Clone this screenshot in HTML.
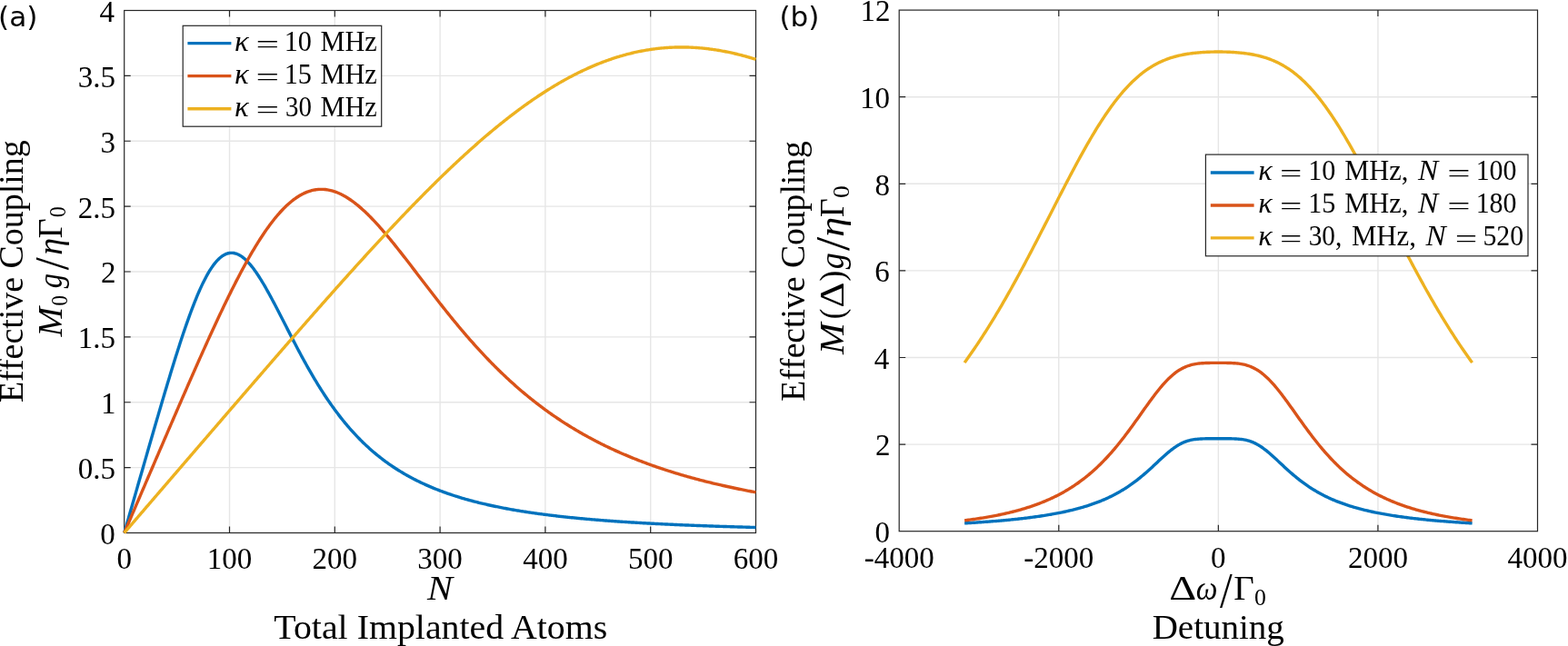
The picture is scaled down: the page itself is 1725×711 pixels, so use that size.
<!DOCTYPE html>
<html><head><meta charset="utf-8"><title>Effective Coupling</title>
<style>html,body{margin:0;padding:0;background:#fff;}svg{display:block;}</style></head>
<body><svg width="1725" height="711" viewBox="0 0 1725 711"><rect width="1725" height="711" fill="#fff"/>
<path d="M252.50 11.50V586.50M368.30 11.50V586.50M484.10 11.50V586.50M599.90 11.50V586.50M715.70 11.50V586.50M136.70 514.62H831.50M136.70 442.75H831.50M136.70 370.88H831.50M136.70 299.00H831.50M136.70 227.12H831.50M136.70 155.25H831.50M136.70 83.38H831.50" stroke="#E6E6E6" stroke-width="1.4" fill="none"/>
<path d="M1164.78 11.10V584.70M1340.35 11.10V584.70M1515.92 11.10V584.70M989.20 489.10H1691.50M989.20 393.50H1691.50M989.20 297.90H1691.50M989.20 202.30H1691.50M989.20 106.70H1691.50" stroke="#E6E6E6" stroke-width="1.4" fill="none"/>
<path d="M252.50 586.50v-7.0M252.50 11.50v7.0M368.30 586.50v-7.0M368.30 11.50v7.0M484.10 586.50v-7.0M484.10 11.50v7.0M599.90 586.50v-7.0M599.90 11.50v7.0M715.70 586.50v-7.0M715.70 11.50v7.0M136.70 514.62h7.0M831.50 514.62h-7.0M136.70 442.75h7.0M831.50 442.75h-7.0M136.70 370.88h7.0M831.50 370.88h-7.0M136.70 299.00h7.0M831.50 299.00h-7.0M136.70 227.12h7.0M831.50 227.12h-7.0M136.70 155.25h7.0M831.50 155.25h-7.0M136.70 83.38h7.0M831.50 83.38h-7.0" stroke="#262626" stroke-width="1.2" fill="none"/>
<rect x="136.70" y="11.50" width="694.80" height="575.00" stroke="#262626" stroke-width="1.2" fill="none"/>
<path d="M1164.78 584.70v-7.0M1164.78 11.10v7.0M1340.35 584.70v-7.0M1340.35 11.10v7.0M1515.92 584.70v-7.0M1515.92 11.10v7.0M989.20 489.10h7.0M1691.50 489.10h-7.0M989.20 393.50h7.0M1691.50 393.50h-7.0M989.20 297.90h7.0M1691.50 297.90h-7.0M989.20 202.30h7.0M1691.50 202.30h-7.0M989.20 106.70h7.0M1691.50 106.70h-7.0" stroke="#262626" stroke-width="1.2" fill="none"/>
<rect x="989.20" y="11.10" width="702.30" height="573.60" stroke="#262626" stroke-width="1.2" fill="none"/>
<path d="M136.70 586.50L137.86 582.47L139.02 578.43L140.17 574.40L141.33 570.37L142.49 566.33L143.65 562.30L144.81 558.27L145.96 554.24L147.12 550.20L148.28 546.17L149.44 542.14L150.60 538.11L151.75 534.07L152.91 530.04L154.07 526.01L155.23 521.98L156.39 517.96L157.54 513.93L158.70 509.90L159.86 505.88L161.02 501.86L162.18 497.84L163.33 493.82L164.49 489.81L165.65 485.80L166.81 481.79L167.97 477.79L169.12 473.79L170.28 469.80L171.44 465.81L172.60 461.83L173.76 457.86L174.91 453.90L176.07 449.94L177.23 446.00L178.39 442.06L179.55 438.14L180.70 434.23L181.86 430.33L183.02 426.45L184.18 422.58L185.34 418.73L186.49 414.89L187.65 411.08L188.81 407.29L189.97 403.51L191.13 399.77L192.28 396.04L193.44 392.34L194.60 388.67L195.76 385.03L196.92 381.42L198.07 377.84L199.23 374.30L200.39 370.79L201.55 367.32L202.71 363.89L203.86 360.50L205.02 357.15L206.18 353.85L207.34 350.59L208.50 347.38L209.65 344.23L210.81 341.12L211.97 338.07L213.13 335.08L214.29 332.14L215.44 329.27L216.60 326.46L217.76 323.71L218.92 321.03L220.08 318.41L221.23 315.87L222.39 313.39L223.55 310.99L224.71 308.67L225.87 306.42L227.02 304.25L228.18 302.16L229.34 300.15L230.50 298.22L231.66 296.38L232.81 294.62L233.97 292.95L235.13 291.36L236.29 289.86L237.45 288.46L238.60 287.14L239.76 285.91L240.92 284.78L242.08 283.73L243.24 282.78L244.39 281.92L245.55 281.16L246.71 280.48L247.87 279.90L249.03 279.41L250.18 279.01L251.34 278.71L252.50 278.50L253.66 278.37L254.82 278.34L255.97 278.39L257.13 278.54L258.29 278.77L259.45 279.08L260.61 279.48L261.76 279.97L262.92 280.53L264.08 281.18L265.24 281.90L266.40 282.71L267.55 283.58L268.71 284.53L269.87 285.56L271.03 286.65L272.19 287.81L273.34 289.04L274.50 290.33L275.66 291.69L276.82 293.10L277.98 294.57L279.13 296.10L280.29 297.68L281.45 299.31L282.61 300.99L283.77 302.72L284.92 304.49L286.08 306.31L287.24 308.17L288.40 310.06L289.56 312.00L290.71 313.96L291.87 315.96L293.03 317.99L294.19 320.05L295.35 322.13L296.50 324.24L297.66 326.37L298.82 328.52L299.98 330.69L301.14 332.87L302.29 335.08L303.45 337.29L304.61 339.52L305.77 341.76L306.93 344.00L308.08 346.25L309.24 348.51L310.40 350.78L311.56 353.04L312.72 355.31L313.87 357.58L315.03 359.85L316.19 362.11L317.35 364.38L318.51 366.64L319.66 368.89L320.82 371.14L321.98 373.38L323.14 375.61L324.30 377.83L325.45 380.05L326.61 382.25L327.77 384.44L328.93 386.62L330.09 388.79L331.24 390.94L332.40 393.09L333.56 395.21L334.72 397.33L335.88 399.42L337.03 401.50L338.19 403.57L339.35 405.62L340.51 407.65L341.67 409.67L342.82 411.67L343.98 413.65L345.14 415.61L346.30 417.56L347.46 419.48L348.61 421.39L349.77 423.28L350.93 425.15L352.09 427.01L353.25 428.84L354.40 430.65L355.56 432.45L356.72 434.23L357.88 435.98L359.04 437.72L360.19 439.44L361.35 441.14L362.51 442.83L363.67 444.49L364.83 446.13L365.98 447.76L367.14 449.36L368.30 450.95L369.46 452.52L370.62 454.07L371.77 455.60L372.93 457.11L374.09 458.61L375.25 460.08L376.41 461.54L377.56 462.98L378.72 464.40L379.88 465.81L381.04 467.20L382.20 468.57L383.35 469.92L384.51 471.26L385.67 472.58L386.83 473.88L387.99 475.17L389.14 476.44L390.30 477.69L391.46 478.93L392.62 480.15L393.78 481.36L394.93 482.55L396.09 483.72L397.25 484.88L398.41 486.03L399.57 487.16L400.72 488.27L401.88 489.37L403.04 490.46L404.20 491.53L405.36 492.59L406.51 493.64L407.67 494.67L408.83 495.69L409.99 496.69L411.15 497.68L412.30 498.66L413.46 499.63L414.62 500.58L415.78 501.52L416.94 502.45L418.09 503.37L419.25 504.27L420.41 505.16L421.57 506.04L422.73 506.91L423.88 507.77L425.04 508.62L426.20 509.45L427.36 510.28L428.52 511.09L429.67 511.90L430.83 512.69L431.99 513.47L433.15 514.25L434.31 515.01L435.46 515.76L436.62 516.50L437.78 517.24L438.94 517.96L440.10 518.68L441.25 519.38L442.41 520.08L443.57 520.77L444.73 521.44L445.89 522.11L447.04 522.78L448.20 523.43L449.36 524.07L450.52 524.71L451.68 525.34L452.83 525.96L453.99 526.57L455.15 527.18L456.31 527.77L457.47 528.36L458.62 528.95L459.78 529.52L460.94 530.09L462.10 530.65L463.26 531.20L464.41 531.75L465.57 532.29L466.73 532.82L467.89 533.35L469.05 533.87L470.20 534.38L471.36 534.89L472.52 535.39L473.68 535.89L474.84 536.37L475.99 536.86L477.15 537.33L478.31 537.81L479.47 538.27L480.63 538.73L481.78 539.18L482.94 539.63L484.10 540.08L485.26 540.51L486.42 540.95L487.57 541.37L488.73 541.80L489.89 542.21L491.05 542.63L492.21 543.03L493.36 543.44L494.52 543.83L495.68 544.23L496.84 544.61L498.00 545.00L499.15 545.38L500.31 545.75L501.47 546.12L502.63 546.49L503.79 546.85L504.94 547.21L506.10 547.56L507.26 547.91L508.42 548.26L509.58 548.60L510.73 548.94L511.89 549.27L513.05 549.60L514.21 549.92L515.37 550.25L516.52 550.57L517.68 550.88L518.84 551.19L520.00 551.50L521.16 551.80L522.31 552.10L523.47 552.40L524.63 552.70L525.79 552.99L526.95 553.28L528.10 553.56L529.26 553.84L530.42 554.12L531.58 554.39L532.74 554.67L533.89 554.94L535.05 555.20L536.21 555.47L537.37 555.73L538.53 555.98L539.68 556.24L540.84 556.49L542.00 556.74L543.16 556.99L544.32 557.23L545.47 557.47L546.63 557.71L547.79 557.95L548.95 558.18L550.11 558.41L551.26 558.64L552.42 558.87L553.58 559.09L554.74 559.31L555.90 559.53L557.05 559.75L558.21 559.96L559.37 560.17L560.53 560.38L561.69 560.59L562.84 560.80L564.00 561.00L565.16 561.20L566.32 561.40L567.48 561.60L568.63 561.80L569.79 561.99L570.95 562.18L572.11 562.37L573.27 562.56L574.42 562.74L575.58 562.93L576.74 563.11L577.90 563.29L579.06 563.47L580.21 563.64L581.37 563.82L582.53 563.99L583.69 564.16L584.85 564.33L586.00 564.50L587.16 564.66L588.32 564.83L589.48 564.99L590.64 565.15L591.79 565.31L592.95 565.47L594.11 565.63L595.27 565.78L596.43 565.94L597.58 566.09L598.74 566.24L599.90 566.39L601.06 566.54L602.22 566.68L603.37 566.83L604.53 566.97L605.69 567.11L606.85 567.25L608.01 567.39L609.16 567.53L610.32 567.67L611.48 567.80L612.64 567.94L613.80 568.07L614.95 568.20L616.11 568.33L617.27 568.46L618.43 568.59L619.59 568.71L620.74 568.84L621.90 568.96L623.06 569.09L624.22 569.21L625.38 569.33L626.53 569.45L627.69 569.57L628.85 569.69L630.01 569.80L631.17 569.92L632.32 570.03L633.48 570.15L634.64 570.26L635.80 570.37L636.96 570.48L638.11 570.59L639.27 570.70L640.43 570.81L641.59 570.91L642.75 571.02L643.90 571.12L645.06 571.23L646.22 571.33L647.38 571.43L648.54 571.53L649.69 571.63L650.85 571.73L652.01 571.83L653.17 571.93L654.33 572.02L655.48 572.12L656.64 572.21L657.80 572.31L658.96 572.40L660.12 572.49L661.27 572.59L662.43 572.68L663.59 572.77L664.75 572.86L665.91 572.94L667.06 573.03L668.22 573.12L669.38 573.20L670.54 573.29L671.70 573.37L672.85 573.46L674.01 573.54L675.17 573.63L676.33 573.71L677.49 573.79L678.64 573.87L679.80 573.95L680.96 574.03L682.12 574.11L683.28 574.18L684.43 574.26L685.59 574.34L686.75 574.41L687.91 574.49L689.07 574.56L690.22 574.64L691.38 574.71L692.54 574.79L693.70 574.86L694.86 574.93L696.01 575.00L697.17 575.07L698.33 575.14L699.49 575.21L700.65 575.28L701.80 575.35L702.96 575.42L704.12 575.48L705.28 575.55L706.44 575.62L707.59 575.68L708.75 575.75L709.91 575.81L711.07 575.87L712.23 575.94L713.38 576.00L714.54 576.06L715.70 576.13L716.86 576.19L718.02 576.25L719.17 576.31L720.33 576.37L721.49 576.43L722.65 576.49L723.81 576.55L724.96 576.61L726.12 576.66L727.28 576.72L728.44 576.78L729.60 576.83L730.75 576.89L731.91 576.95L733.07 577.00L734.23 577.06L735.39 577.11L736.54 577.16L737.70 577.22L738.86 577.27L740.02 577.32L741.18 577.38L742.33 577.43L743.49 577.48L744.65 577.53L745.81 577.58L746.97 577.63L748.12 577.68L749.28 577.73L750.44 577.78L751.60 577.83L752.76 577.88L753.91 577.93L755.07 577.97L756.23 578.02L757.39 578.07L758.55 578.12L759.70 578.16L760.86 578.21L762.02 578.25L763.18 578.30L764.34 578.34L765.49 578.39L766.65 578.43L767.81 578.48L768.97 578.52L770.13 578.56L771.28 578.61L772.44 578.65L773.60 578.69L774.76 578.74L775.92 578.78L777.07 578.82L778.23 578.86L779.39 578.90L780.55 578.94L781.71 578.98L782.86 579.02L784.02 579.06L785.18 579.10L786.34 579.14L787.50 579.18L788.65 579.22L789.81 579.26L790.97 579.30L792.13 579.33L793.29 579.37L794.44 579.41L795.60 579.45L796.76 579.48L797.92 579.52L799.08 579.56L800.23 579.59L801.39 579.63L802.55 579.66L803.71 579.70L804.87 579.73L806.02 579.77L807.18 579.80L808.34 579.84L809.50 579.87L810.66 579.91L811.81 579.94L812.97 579.97L814.13 580.01L815.29 580.04L816.45 580.07L817.60 580.11L818.76 580.14L819.92 580.17L821.08 580.20L822.24 580.23L823.39 580.27L824.55 580.30L825.71 580.33L826.87 580.36L828.03 580.39L829.18 580.42L830.34 580.45L831.50 580.48" stroke="#0072BD" stroke-width="3.4" fill="none" stroke-linejoin="round"/>
<path d="M136.70 586.50L137.86 583.81L139.02 581.11L140.17 578.42L141.33 575.72L142.49 573.03L143.65 570.34L144.81 567.64L145.96 564.95L147.12 562.25L148.28 559.56L149.44 556.87L150.60 554.17L151.75 551.48L152.91 548.78L154.07 546.09L155.23 543.40L156.39 540.70L157.54 538.01L158.70 535.31L159.86 532.62L161.02 529.93L162.18 527.23L163.33 524.54L164.49 521.85L165.65 519.16L166.81 516.46L167.97 513.77L169.12 511.08L170.28 508.39L171.44 505.70L172.60 503.00L173.76 500.31L174.91 497.62L176.07 494.93L177.23 492.25L178.39 489.56L179.55 486.87L180.70 484.18L181.86 481.50L183.02 478.81L184.18 476.13L185.34 473.44L186.49 470.76L187.65 468.08L188.81 465.40L189.97 462.72L191.13 460.05L192.28 457.37L193.44 454.70L194.60 452.02L195.76 449.35L196.92 446.69L198.07 444.02L199.23 441.36L200.39 438.69L201.55 436.03L202.71 433.38L203.86 430.72L205.02 428.07L206.18 425.42L207.34 422.78L208.50 420.14L209.65 417.50L210.81 414.86L211.97 412.23L213.13 409.60L214.29 406.98L215.44 404.36L216.60 401.75L217.76 399.14L218.92 396.53L220.08 393.93L221.23 391.34L222.39 388.75L223.55 386.17L224.71 383.59L225.87 381.02L227.02 378.45L228.18 375.90L229.34 373.35L230.50 370.80L231.66 368.27L232.81 365.74L233.97 363.22L235.13 360.71L236.29 358.20L237.45 355.71L238.60 353.22L239.76 350.75L240.92 348.28L242.08 345.82L243.24 343.38L244.39 340.94L245.55 338.52L246.71 336.10L247.87 333.70L249.03 331.31L250.18 328.93L251.34 326.57L252.50 324.22L253.66 321.88L254.82 319.55L255.97 317.24L257.13 314.95L258.29 312.66L259.45 310.40L260.61 308.15L261.76 305.91L262.92 303.69L264.08 301.49L265.24 299.30L266.40 297.13L267.55 294.98L268.71 292.85L269.87 290.73L271.03 288.64L272.19 286.56L273.34 284.50L274.50 282.47L275.66 280.45L276.82 278.45L277.98 276.48L279.13 274.53L280.29 272.59L281.45 270.69L282.61 268.80L283.77 266.94L284.92 265.10L286.08 263.28L287.24 261.49L288.40 259.72L289.56 257.98L290.71 256.26L291.87 254.57L293.03 252.90L294.19 251.26L295.35 249.65L296.50 248.06L297.66 246.50L298.82 244.97L299.98 243.47L301.14 241.99L302.29 240.54L303.45 239.13L304.61 237.74L305.77 236.38L306.93 235.05L308.08 233.75L309.24 232.48L310.40 231.24L311.56 230.04L312.72 228.86L313.87 227.71L315.03 226.60L316.19 225.52L317.35 224.47L318.51 223.45L319.66 222.46L320.82 221.51L321.98 220.59L323.14 219.70L324.30 218.85L325.45 218.02L326.61 217.23L327.77 216.48L328.93 215.76L330.09 215.07L331.24 214.41L332.40 213.79L333.56 213.20L334.72 212.65L335.88 212.12L337.03 211.64L338.19 211.18L339.35 210.76L340.51 210.38L341.67 210.02L342.82 209.70L343.98 209.42L345.14 209.17L346.30 208.95L347.46 208.76L348.61 208.61L349.77 208.49L350.93 208.40L352.09 208.35L353.25 208.33L354.40 208.34L355.56 208.38L356.72 208.46L357.88 208.56L359.04 208.70L360.19 208.87L361.35 209.07L362.51 209.30L363.67 209.57L364.83 209.86L365.98 210.18L367.14 210.54L368.30 210.92L369.46 211.33L370.62 211.77L371.77 212.24L372.93 212.74L374.09 213.27L375.25 213.82L376.41 214.41L377.56 215.01L378.72 215.65L379.88 216.31L381.04 217.00L382.20 217.71L383.35 218.45L384.51 219.21L385.67 220.00L386.83 220.81L387.99 221.65L389.14 222.50L390.30 223.39L391.46 224.29L392.62 225.21L393.78 226.16L394.93 227.13L396.09 228.12L397.25 229.13L398.41 230.16L399.57 231.21L400.72 232.27L401.88 233.36L403.04 234.46L404.20 235.59L405.36 236.73L406.51 237.88L407.67 239.06L408.83 240.25L409.99 241.45L411.15 242.67L412.30 243.90L413.46 245.15L414.62 246.42L415.78 247.69L416.94 248.98L418.09 250.28L419.25 251.60L420.41 252.93L421.57 254.26L422.73 255.61L423.88 256.97L425.04 258.34L426.20 259.72L427.36 261.11L428.52 262.51L429.67 263.92L430.83 265.33L431.99 266.76L433.15 268.19L434.31 269.62L435.46 271.07L436.62 272.52L437.78 273.98L438.94 275.44L440.10 276.91L441.25 278.39L442.41 279.87L443.57 281.35L444.73 282.84L445.89 284.33L447.04 285.82L448.20 287.32L449.36 288.82L450.52 290.33L451.68 291.83L452.83 293.34L453.99 294.85L455.15 296.37L456.31 297.88L457.47 299.39L458.62 300.91L459.78 302.42L460.94 303.94L462.10 305.45L463.26 306.97L464.41 308.48L465.57 310.00L466.73 311.51L467.89 313.02L469.05 314.53L470.20 316.04L471.36 317.55L472.52 319.05L473.68 320.55L474.84 322.06L475.99 323.55L477.15 325.05L478.31 326.54L479.47 328.03L480.63 329.52L481.78 331.00L482.94 332.48L484.10 333.95L485.26 335.42L486.42 336.89L487.57 338.35L488.73 339.81L489.89 341.27L491.05 342.72L492.21 344.16L493.36 345.60L494.52 347.04L495.68 348.47L496.84 349.89L498.00 351.32L499.15 352.73L500.31 354.14L501.47 355.54L502.63 356.94L503.79 358.34L504.94 359.72L506.10 361.10L507.26 362.48L508.42 363.85L509.58 365.21L510.73 366.57L511.89 367.92L513.05 369.27L514.21 370.61L515.37 371.94L516.52 373.26L517.68 374.58L518.84 375.90L520.00 377.20L521.16 378.50L522.31 379.80L523.47 381.08L524.63 382.36L525.79 383.64L526.95 384.90L528.10 386.16L529.26 387.42L530.42 388.66L531.58 389.90L532.74 391.14L533.89 392.36L535.05 393.58L536.21 394.79L537.37 396.00L538.53 397.20L539.68 398.39L540.84 399.57L542.00 400.75L543.16 401.92L544.32 403.08L545.47 404.24L546.63 405.39L547.79 406.53L548.95 407.67L550.11 408.80L551.26 409.92L552.42 411.03L553.58 412.14L554.74 413.24L555.90 414.34L557.05 415.42L558.21 416.50L559.37 417.58L560.53 418.65L561.69 419.71L562.84 420.76L564.00 421.81L565.16 422.85L566.32 423.88L567.48 424.91L568.63 425.92L569.79 426.94L570.95 427.94L572.11 428.94L573.27 429.94L574.42 430.92L575.58 431.90L576.74 432.88L577.90 433.84L579.06 434.80L580.21 435.76L581.37 436.71L582.53 437.65L583.69 438.58L584.85 439.51L586.00 440.43L587.16 441.35L588.32 442.26L589.48 443.16L590.64 444.06L591.79 444.95L592.95 445.83L594.11 446.71L595.27 447.59L596.43 448.45L597.58 449.31L598.74 450.17L599.90 451.02L601.06 451.86L602.22 452.70L603.37 453.53L604.53 454.35L605.69 455.17L606.85 455.99L608.01 456.79L609.16 457.60L610.32 458.39L611.48 459.18L612.64 459.97L613.80 460.75L614.95 461.52L616.11 462.29L617.27 463.06L618.43 463.82L619.59 464.57L620.74 465.32L621.90 466.06L623.06 466.80L624.22 467.53L625.38 468.25L626.53 468.98L627.69 469.69L628.85 470.40L630.01 471.11L631.17 471.81L632.32 472.51L633.48 473.20L634.64 473.88L635.80 474.57L636.96 475.24L638.11 475.91L639.27 476.58L640.43 477.24L641.59 477.90L642.75 478.55L643.90 479.20L645.06 479.84L646.22 480.48L647.38 481.12L648.54 481.75L649.69 482.37L650.85 482.99L652.01 483.61L653.17 484.22L654.33 484.83L655.48 485.43L656.64 486.03L657.80 486.63L658.96 487.22L660.12 487.80L661.27 488.39L662.43 488.96L663.59 489.54L664.75 490.11L665.91 490.67L667.06 491.24L668.22 491.79L669.38 492.35L670.54 492.90L671.70 493.44L672.85 493.99L674.01 494.52L675.17 495.06L676.33 495.59L677.49 496.12L678.64 496.64L679.80 497.16L680.96 497.67L682.12 498.19L683.28 498.69L684.43 499.20L685.59 499.70L686.75 500.20L687.91 500.69L689.07 501.18L690.22 501.67L691.38 502.16L692.54 502.64L693.70 503.11L694.86 503.59L696.01 504.06L697.17 504.52L698.33 504.99L699.49 505.45L700.65 505.91L701.80 506.36L702.96 506.81L704.12 507.26L705.28 507.70L706.44 508.15L707.59 508.58L708.75 509.02L709.91 509.45L711.07 509.88L712.23 510.31L713.38 510.73L714.54 511.15L715.70 511.57L716.86 511.99L718.02 512.40L719.17 512.81L720.33 513.21L721.49 513.62L722.65 514.02L723.81 514.41L724.96 514.81L726.12 515.20L727.28 515.59L728.44 515.98L729.60 516.36L730.75 516.75L731.91 517.12L733.07 517.50L734.23 517.87L735.39 518.25L736.54 518.62L737.70 518.98L738.86 519.35L740.02 519.71L741.18 520.07L742.33 520.42L743.49 520.78L744.65 521.13L745.81 521.48L746.97 521.82L748.12 522.17L749.28 522.51L750.44 522.85L751.60 523.19L752.76 523.52L753.91 523.86L755.07 524.19L756.23 524.52L757.39 524.84L758.55 525.17L759.70 525.49L760.86 525.81L762.02 526.13L763.18 526.44L764.34 526.76L765.49 527.07L766.65 527.38L767.81 527.69L768.97 527.99L770.13 528.30L771.28 528.60L772.44 528.90L773.60 529.19L774.76 529.49L775.92 529.78L777.07 530.07L778.23 530.36L779.39 530.65L780.55 530.94L781.71 531.22L782.86 531.50L784.02 531.78L785.18 532.06L786.34 532.34L787.50 532.61L788.65 532.89L789.81 533.16L790.97 533.43L792.13 533.70L793.29 533.96L794.44 534.23L795.60 534.49L796.76 534.75L797.92 535.01L799.08 535.27L800.23 535.52L801.39 535.78L802.55 536.03L803.71 536.28L804.87 536.53L806.02 536.78L807.18 537.03L808.34 537.27L809.50 537.51L810.66 537.75L811.81 537.99L812.97 538.23L814.13 538.47L815.29 538.71L816.45 538.94L817.60 539.17L818.76 539.40L819.92 539.63L821.08 539.86L822.24 540.09L823.39 540.31L824.55 540.54L825.71 540.76L826.87 540.98L828.03 541.20L829.18 541.42L830.34 541.64L831.50 541.85" stroke="#D95319" stroke-width="3.4" fill="none" stroke-linejoin="round"/>
<path d="M136.70 586.50L137.86 585.15L139.02 583.81L140.17 582.46L141.33 581.11L142.49 579.77L143.65 578.42L144.81 577.08L145.96 575.73L147.12 574.38L148.28 573.04L149.44 571.69L150.60 570.34L151.75 569.00L152.91 567.65L154.07 566.30L155.23 564.96L156.39 563.61L157.54 562.27L158.70 560.92L159.86 559.57L161.02 558.23L162.18 556.88L163.33 555.53L164.49 554.19L165.65 552.84L166.81 551.49L167.97 550.15L169.12 548.80L170.28 547.46L171.44 546.11L172.60 544.76L173.76 543.42L174.91 542.07L176.07 540.72L177.23 539.38L178.39 538.03L179.55 536.68L180.70 535.34L181.86 533.99L183.02 532.65L184.18 531.30L185.34 529.95L186.49 528.61L187.65 527.26L188.81 525.91L189.97 524.57L191.13 523.22L192.28 521.88L193.44 520.53L194.60 519.18L195.76 517.84L196.92 516.49L198.07 515.15L199.23 513.80L200.39 512.45L201.55 511.11L202.71 509.76L203.86 508.41L205.02 507.07L206.18 505.72L207.34 504.38L208.50 503.03L209.65 501.68L210.81 500.34L211.97 498.99L213.13 497.65L214.29 496.30L215.44 494.96L216.60 493.61L217.76 492.26L218.92 490.92L220.08 489.57L221.23 488.23L222.39 486.88L223.55 485.54L224.71 484.19L225.87 482.85L227.02 481.50L228.18 480.15L229.34 478.81L230.50 477.46L231.66 476.12L232.81 474.77L233.97 473.43L235.13 472.08L236.29 470.74L237.45 469.39L238.60 468.05L239.76 466.71L240.92 465.36L242.08 464.02L243.24 462.67L244.39 461.33L245.55 459.98L246.71 458.64L247.87 457.30L249.03 455.95L250.18 454.61L251.34 453.26L252.50 451.92L253.66 450.58L254.82 449.23L255.97 447.89L257.13 446.55L258.29 445.20L259.45 443.86L260.61 442.52L261.76 441.18L262.92 439.83L264.08 438.49L265.24 437.15L266.40 435.81L267.55 434.47L268.71 433.12L269.87 431.78L271.03 430.44L272.19 429.10L273.34 427.76L274.50 426.42L275.66 425.08L276.82 423.74L277.98 422.40L279.13 421.06L280.29 419.72L281.45 418.38L282.61 417.04L283.77 415.70L284.92 414.36L286.08 413.02L287.24 411.68L288.40 410.35L289.56 409.01L290.71 407.67L291.87 406.33L293.03 405.00L294.19 403.66L295.35 402.32L296.50 400.99L297.66 399.65L298.82 398.32L299.98 396.98L301.14 395.65L302.29 394.31L303.45 392.98L304.61 391.64L305.77 390.31L306.93 388.98L308.08 387.64L309.24 386.31L310.40 384.98L311.56 383.65L312.72 382.32L313.87 380.98L315.03 379.65L316.19 378.32L317.35 376.99L318.51 375.66L319.66 374.34L320.82 373.01L321.98 371.68L323.14 370.35L324.30 369.03L325.45 367.70L326.61 366.37L327.77 365.05L328.93 363.72L330.09 362.40L331.24 361.07L332.40 359.75L333.56 358.43L334.72 357.10L335.88 355.78L337.03 354.46L338.19 353.14L339.35 351.82L340.51 350.50L341.67 349.18L342.82 347.86L343.98 346.55L345.14 345.23L346.30 343.91L347.46 342.60L348.61 341.28L349.77 339.97L350.93 338.66L352.09 337.34L353.25 336.03L354.40 334.72L355.56 333.41L356.72 332.10L357.88 330.79L359.04 329.48L360.19 328.17L361.35 326.87L362.51 325.56L363.67 324.26L364.83 322.95L365.98 321.65L367.14 320.35L368.30 319.04L369.46 317.74L370.62 316.44L371.77 315.14L372.93 313.85L374.09 312.55L375.25 311.25L376.41 309.96L377.56 308.66L378.72 307.37L379.88 306.08L381.04 304.79L382.20 303.50L383.35 302.21L384.51 300.92L385.67 299.63L386.83 298.35L387.99 297.06L389.14 295.78L390.30 294.50L391.46 293.22L392.62 291.94L393.78 290.66L394.93 289.38L396.09 288.10L397.25 286.83L398.41 285.55L399.57 284.28L400.72 283.01L401.88 281.74L403.04 280.47L404.20 279.20L405.36 277.94L406.51 276.67L407.67 275.41L408.83 274.15L409.99 272.89L411.15 271.63L412.30 270.37L413.46 269.11L414.62 267.86L415.78 266.61L416.94 265.36L418.09 264.11L419.25 262.86L420.41 261.61L421.57 260.36L422.73 259.12L423.88 257.88L425.04 256.64L426.20 255.40L427.36 254.16L428.52 252.93L429.67 251.69L430.83 250.46L431.99 249.23L433.15 248.00L434.31 246.78L435.46 245.55L436.62 244.33L437.78 243.11L438.94 241.89L440.10 240.67L441.25 239.45L442.41 238.24L443.57 237.03L444.73 235.82L445.89 234.61L447.04 233.41L448.20 232.20L449.36 231.00L450.52 229.80L451.68 228.60L452.83 227.41L453.99 226.22L455.15 225.02L456.31 223.84L457.47 222.65L458.62 221.47L459.78 220.28L460.94 219.10L462.10 217.93L463.26 216.75L464.41 215.58L465.57 214.41L466.73 213.24L467.89 212.07L469.05 210.91L470.20 209.75L471.36 208.59L472.52 207.43L473.68 206.28L474.84 205.13L475.99 203.98L477.15 202.84L478.31 201.69L479.47 200.55L480.63 199.41L481.78 198.28L482.94 197.15L484.10 196.02L485.26 194.89L486.42 193.76L487.57 192.64L488.73 191.52L489.89 190.41L491.05 189.29L492.21 188.18L493.36 187.08L494.52 185.97L495.68 184.87L496.84 183.77L498.00 182.68L499.15 181.58L500.31 180.49L501.47 179.41L502.63 178.32L503.79 177.24L504.94 176.17L506.10 175.09L507.26 174.02L508.42 172.95L509.58 171.89L510.73 170.83L511.89 169.77L513.05 168.72L514.21 167.66L515.37 166.62L516.52 165.57L517.68 164.53L518.84 163.49L520.00 162.46L521.16 161.43L522.31 160.40L523.47 159.38L524.63 158.36L525.79 157.34L526.95 156.32L528.10 155.32L529.26 154.31L530.42 153.31L531.58 152.31L532.74 151.31L533.89 150.32L535.05 149.33L536.21 148.35L537.37 147.37L538.53 146.39L539.68 145.42L540.84 144.45L542.00 143.49L543.16 142.53L544.32 141.57L545.47 140.62L546.63 139.67L547.79 138.73L548.95 137.78L550.11 136.85L551.26 135.92L552.42 134.99L553.58 134.06L554.74 133.14L555.90 132.23L557.05 131.32L558.21 130.41L559.37 129.50L560.53 128.61L561.69 127.71L562.84 126.82L564.00 125.93L565.16 125.05L566.32 124.17L567.48 123.30L568.63 122.43L569.79 121.57L570.95 120.71L572.11 119.85L573.27 119.00L574.42 118.16L575.58 117.32L576.74 116.48L577.90 115.65L579.06 114.82L580.21 114.00L581.37 113.18L582.53 112.36L583.69 111.55L584.85 110.75L586.00 109.95L587.16 109.16L588.32 108.37L589.48 107.58L590.64 106.80L591.79 106.03L592.95 105.26L594.11 104.49L595.27 103.73L596.43 102.97L597.58 102.22L598.74 101.48L599.90 100.74L601.06 100.00L602.22 99.27L603.37 98.54L604.53 97.82L605.69 97.11L606.85 96.40L608.01 95.69L609.16 94.99L610.32 94.30L611.48 93.61L612.64 92.92L613.80 92.24L614.95 91.57L616.11 90.90L617.27 90.24L618.43 89.58L619.59 88.92L620.74 88.28L621.90 87.63L623.06 87.00L624.22 86.37L625.38 85.74L626.53 85.12L627.69 84.50L628.85 83.89L630.01 83.29L631.17 82.69L632.32 82.10L633.48 81.51L634.64 80.93L635.80 80.35L636.96 79.78L638.11 79.21L639.27 78.65L640.43 78.10L641.59 77.55L642.75 77.00L643.90 76.47L645.06 75.93L646.22 75.41L647.38 74.89L648.54 74.37L649.69 73.86L650.85 73.36L652.01 72.86L653.17 72.37L654.33 71.88L655.48 71.40L656.64 70.92L657.80 70.45L658.96 69.99L660.12 69.53L661.27 69.08L662.43 68.63L663.59 68.19L664.75 67.76L665.91 67.33L667.06 66.90L668.22 66.49L669.38 66.07L670.54 65.67L671.70 65.27L672.85 64.87L674.01 64.49L675.17 64.10L676.33 63.73L677.49 63.36L678.64 62.99L679.80 62.63L680.96 62.28L682.12 61.93L683.28 61.59L684.43 61.26L685.59 60.93L686.75 60.61L687.91 60.29L689.07 59.98L690.22 59.67L691.38 59.37L692.54 59.08L693.70 58.79L694.86 58.51L696.01 58.23L697.17 57.96L698.33 57.70L699.49 57.44L700.65 57.19L701.80 56.94L702.96 56.70L704.12 56.47L705.28 56.24L706.44 56.02L707.59 55.80L708.75 55.59L709.91 55.39L711.07 55.19L712.23 55.00L713.38 54.81L714.54 54.63L715.70 54.45L716.86 54.29L718.02 54.12L719.17 53.97L720.33 53.82L721.49 53.67L722.65 53.53L723.81 53.40L724.96 53.27L726.12 53.15L727.28 53.03L728.44 52.92L729.60 52.82L730.75 52.72L731.91 52.63L733.07 52.54L734.23 52.46L735.39 52.39L736.54 52.32L737.70 52.26L738.86 52.20L740.02 52.15L741.18 52.10L742.33 52.06L743.49 52.03L744.65 52.00L745.81 51.98L746.97 51.96L748.12 51.95L749.28 51.95L750.44 51.95L751.60 51.95L752.76 51.97L753.91 51.98L755.07 52.01L756.23 52.04L757.39 52.07L758.55 52.11L759.70 52.16L760.86 52.21L762.02 52.27L763.18 52.33L764.34 52.40L765.49 52.47L766.65 52.55L767.81 52.64L768.97 52.73L770.13 52.82L771.28 52.93L772.44 53.03L773.60 53.15L774.76 53.26L775.92 53.39L777.07 53.52L778.23 53.65L779.39 53.79L780.55 53.94L781.71 54.09L782.86 54.24L784.02 54.40L785.18 54.57L786.34 54.74L787.50 54.92L788.65 55.10L789.81 55.29L790.97 55.48L792.13 55.68L793.29 55.88L794.44 56.09L795.60 56.30L796.76 56.52L797.92 56.74L799.08 56.97L800.23 57.21L801.39 57.45L802.55 57.69L803.71 57.94L804.87 58.19L806.02 58.45L807.18 58.71L808.34 58.98L809.50 59.26L810.66 59.53L811.81 59.82L812.97 60.10L814.13 60.40L815.29 60.69L816.45 61.00L817.60 61.30L818.76 61.62L819.92 61.93L821.08 62.25L822.24 62.58L823.39 62.91L824.55 63.24L825.71 63.58L826.87 63.93L828.03 64.28L829.18 64.63L830.34 64.99L831.50 65.35" stroke="#EDB120" stroke-width="3.4" fill="none" stroke-linejoin="round"/>
<path d="M1061.10 575.86L1062.49 575.78L1063.89 575.70L1065.29 575.61L1066.68 575.53L1068.08 575.44L1069.48 575.36L1070.87 575.27L1072.27 575.18L1073.66 575.09L1075.06 575.00L1076.46 574.91L1077.85 574.81L1079.25 574.72L1080.65 574.62L1082.04 574.52L1083.44 574.42L1084.83 574.32L1086.23 574.22L1087.63 574.11L1089.02 574.01L1090.42 573.90L1091.82 573.79L1093.21 573.68L1094.61 573.57L1096.00 573.45L1097.40 573.34L1098.80 573.22L1100.19 573.10L1101.59 572.98L1102.99 572.85L1104.38 572.73L1105.78 572.60L1107.17 572.47L1108.57 572.34L1109.97 572.21L1111.36 572.07L1112.76 571.93L1114.16 571.79L1115.55 571.65L1116.95 571.50L1118.34 571.36L1119.74 571.20L1121.14 571.05L1122.53 570.90L1123.93 570.74L1125.33 570.58L1126.72 570.41L1128.12 570.25L1129.51 570.08L1130.91 569.91L1132.31 569.73L1133.70 569.55L1135.10 569.37L1136.50 569.18L1137.89 569.00L1139.29 568.80L1140.68 568.61L1142.08 568.41L1143.48 568.21L1144.87 568.00L1146.27 567.79L1147.67 567.57L1149.06 567.36L1150.46 567.13L1151.85 566.91L1153.25 566.68L1154.65 566.44L1156.04 566.20L1157.44 565.95L1158.84 565.70L1160.23 565.45L1161.63 565.19L1163.02 564.92L1164.42 564.65L1165.82 564.38L1167.21 564.10L1168.61 563.81L1170.01 563.52L1171.40 563.22L1172.80 562.91L1174.20 562.60L1175.59 562.28L1176.99 561.96L1178.38 561.62L1179.78 561.28L1181.18 560.94L1182.57 560.58L1183.97 560.22L1185.37 559.85L1186.76 559.47L1188.16 559.09L1189.55 558.69L1190.95 558.29L1192.35 557.88L1193.74 557.45L1195.14 557.02L1196.54 556.58L1197.93 556.13L1199.33 555.67L1200.72 555.20L1202.12 554.71L1203.52 554.22L1204.91 553.71L1206.31 553.20L1207.71 552.67L1209.10 552.12L1210.50 551.57L1211.89 551.00L1213.29 550.42L1214.69 549.82L1216.08 549.21L1217.48 548.59L1218.88 547.95L1220.27 547.29L1221.67 546.62L1223.06 545.94L1224.46 545.23L1225.86 544.51L1227.25 543.78L1228.65 543.02L1230.05 542.25L1231.44 541.46L1232.84 540.65L1234.23 539.82L1235.63 538.97L1237.03 538.10L1238.42 537.22L1239.82 536.31L1241.22 535.38L1242.61 534.43L1244.01 533.46L1245.40 532.47L1246.80 531.45L1248.20 530.42L1249.59 529.36L1250.99 528.29L1252.39 527.19L1253.78 526.07L1255.18 524.93L1256.57 523.77L1257.97 522.59L1259.37 521.39L1260.76 520.18L1262.16 518.95L1263.56 517.70L1264.95 516.44L1266.35 515.17L1267.74 513.88L1269.14 512.59L1270.54 511.29L1271.93 509.98L1273.33 508.67L1274.73 507.37L1276.12 506.07L1277.52 504.77L1278.91 503.49L1280.31 502.22L1281.71 500.96L1283.10 499.73L1284.50 498.52L1285.90 497.35L1287.29 496.20L1288.69 495.09L1290.08 494.03L1291.48 493.00L1292.88 492.02L1294.27 491.09L1295.67 490.22L1297.07 489.39L1298.46 488.62L1299.86 487.91L1301.25 487.25L1302.65 486.65L1304.05 486.10L1305.44 485.61L1306.84 485.17L1308.24 484.78L1309.63 484.44L1311.03 484.14L1312.42 483.88L1313.82 483.66L1315.22 483.48L1316.61 483.32L1318.01 483.20L1319.41 483.09L1320.80 483.01L1322.20 482.94L1323.59 482.89L1324.99 482.85L1326.39 482.82L1327.78 482.80L1329.18 482.79L1330.58 482.77L1331.97 482.77L1333.37 482.76L1334.76 482.76L1336.16 482.75L1337.56 482.75L1338.95 482.75L1340.35 482.75L1341.75 482.75L1343.14 482.75L1344.54 482.75L1345.94 482.76L1347.33 482.76L1348.73 482.77L1350.12 482.77L1351.52 482.79L1352.92 482.80L1354.31 482.82L1355.71 482.85L1357.11 482.89L1358.50 482.94L1359.90 483.01L1361.29 483.09L1362.69 483.20L1364.09 483.32L1365.48 483.48L1366.88 483.66L1368.28 483.88L1369.67 484.14L1371.07 484.44L1372.46 484.78L1373.86 485.17L1375.26 485.61L1376.65 486.10L1378.05 486.65L1379.45 487.25L1380.84 487.91L1382.24 488.62L1383.63 489.39L1385.03 490.22L1386.43 491.09L1387.82 492.02L1389.22 493.00L1390.62 494.03L1392.01 495.09L1393.41 496.20L1394.80 497.35L1396.20 498.52L1397.60 499.73L1398.99 500.96L1400.39 502.22L1401.79 503.49L1403.18 504.77L1404.58 506.07L1405.97 507.37L1407.37 508.67L1408.77 509.98L1410.16 511.29L1411.56 512.59L1412.96 513.88L1414.35 515.17L1415.75 516.44L1417.14 517.70L1418.54 518.95L1419.94 520.18L1421.33 521.39L1422.73 522.59L1424.13 523.77L1425.52 524.93L1426.92 526.07L1428.31 527.19L1429.71 528.29L1431.11 529.36L1432.50 530.42L1433.90 531.45L1435.30 532.47L1436.69 533.46L1438.09 534.43L1439.48 535.38L1440.88 536.31L1442.28 537.22L1443.67 538.10L1445.07 538.97L1446.47 539.82L1447.86 540.65L1449.26 541.46L1450.65 542.25L1452.05 543.02L1453.45 543.78L1454.84 544.51L1456.24 545.23L1457.64 545.94L1459.03 546.62L1460.43 547.29L1461.82 547.95L1463.22 548.59L1464.62 549.21L1466.01 549.82L1467.41 550.42L1468.81 551.00L1470.20 551.57L1471.60 552.12L1472.99 552.67L1474.39 553.20L1475.79 553.71L1477.18 554.22L1478.58 554.71L1479.98 555.20L1481.37 555.67L1482.77 556.13L1484.16 556.58L1485.56 557.02L1486.96 557.45L1488.35 557.88L1489.75 558.29L1491.15 558.69L1492.54 559.09L1493.94 559.47L1495.33 559.85L1496.73 560.22L1498.13 560.58L1499.52 560.94L1500.92 561.28L1502.32 561.62L1503.71 561.96L1505.11 562.28L1506.50 562.60L1507.90 562.91L1509.30 563.22L1510.69 563.52L1512.09 563.81L1513.49 564.10L1514.88 564.38L1516.28 564.65L1517.68 564.92L1519.07 565.19L1520.47 565.45L1521.86 565.70L1523.26 565.95L1524.66 566.20L1526.05 566.44L1527.45 566.68L1528.85 566.91L1530.24 567.13L1531.64 567.36L1533.03 567.57L1534.43 567.79L1535.83 568.00L1537.22 568.21L1538.62 568.41L1540.02 568.61L1541.41 568.80L1542.81 569.00L1544.20 569.18L1545.60 569.37L1547.00 569.55L1548.39 569.73L1549.79 569.91L1551.19 570.08L1552.58 570.25L1553.98 570.41L1555.37 570.58L1556.77 570.74L1558.17 570.90L1559.56 571.05L1560.96 571.20L1562.36 571.36L1563.75 571.50L1565.15 571.65L1566.54 571.79L1567.94 571.93L1569.34 572.07L1570.73 572.21L1572.13 572.34L1573.53 572.47L1574.92 572.60L1576.32 572.73L1577.71 572.85L1579.11 572.98L1580.51 573.10L1581.90 573.22L1583.30 573.34L1584.70 573.45L1586.09 573.57L1587.49 573.68L1588.88 573.79L1590.28 573.90L1591.68 574.01L1593.07 574.11L1594.47 574.22L1595.87 574.32L1597.26 574.42L1598.66 574.52L1600.05 574.62L1601.45 574.72L1602.85 574.81L1604.24 574.91L1605.64 575.00L1607.04 575.09L1608.43 575.18L1609.83 575.27L1611.22 575.36L1612.62 575.44L1614.02 575.53L1615.41 575.61L1616.81 575.70L1618.21 575.78L1619.60 575.86" stroke="#0072BD" stroke-width="3.4" fill="none" stroke-linejoin="round"/>
<path d="M1061.10 572.84L1062.49 572.67L1063.89 572.49L1065.29 572.31L1066.68 572.12L1068.08 571.93L1069.48 571.74L1070.87 571.54L1072.27 571.35L1073.66 571.14L1075.06 570.94L1076.46 570.73L1077.85 570.51L1079.25 570.29L1080.65 570.07L1082.04 569.85L1083.44 569.62L1084.83 569.38L1086.23 569.14L1087.63 568.90L1089.02 568.65L1090.42 568.40L1091.82 568.14L1093.21 567.88L1094.61 567.61L1096.00 567.34L1097.40 567.06L1098.80 566.78L1100.19 566.49L1101.59 566.19L1102.99 565.89L1104.38 565.59L1105.78 565.28L1107.17 564.96L1108.57 564.63L1109.97 564.30L1111.36 563.97L1112.76 563.62L1114.16 563.27L1115.55 562.92L1116.95 562.55L1118.34 562.18L1119.74 561.80L1121.14 561.42L1122.53 561.03L1123.93 560.62L1125.33 560.21L1126.72 559.80L1128.12 559.37L1129.51 558.94L1130.91 558.49L1132.31 558.04L1133.70 557.58L1135.10 557.11L1136.50 556.63L1137.89 556.14L1139.29 555.64L1140.68 555.13L1142.08 554.61L1143.48 554.08L1144.87 553.54L1146.27 552.99L1147.67 552.42L1149.06 551.85L1150.46 551.26L1151.85 550.66L1153.25 550.05L1154.65 549.43L1156.04 548.79L1157.44 548.14L1158.84 547.48L1160.23 546.80L1161.63 546.11L1163.02 545.41L1164.42 544.69L1165.82 543.96L1167.21 543.21L1168.61 542.45L1170.01 541.67L1171.40 540.88L1172.80 540.06L1174.20 539.24L1175.59 538.39L1176.99 537.53L1178.38 536.65L1179.78 535.76L1181.18 534.84L1182.57 533.91L1183.97 532.96L1185.37 531.99L1186.76 531.00L1188.16 529.99L1189.55 528.96L1190.95 527.91L1192.35 526.84L1193.74 525.75L1195.14 524.64L1196.54 523.50L1197.93 522.35L1199.33 521.17L1200.72 519.97L1202.12 518.75L1203.52 517.50L1204.91 516.23L1206.31 514.94L1207.71 513.62L1209.10 512.28L1210.50 510.92L1211.89 509.53L1213.29 508.12L1214.69 506.68L1216.08 505.22L1217.48 503.73L1218.88 502.22L1220.27 500.69L1221.67 499.13L1223.06 497.55L1224.46 495.94L1225.86 494.31L1227.25 492.65L1228.65 490.97L1230.05 489.27L1231.44 487.54L1232.84 485.79L1234.23 484.02L1235.63 482.23L1237.03 480.42L1238.42 478.59L1239.82 476.74L1241.22 474.88L1242.61 472.99L1244.01 471.09L1245.40 469.18L1246.80 467.25L1248.20 465.31L1249.59 463.36L1250.99 461.41L1252.39 459.44L1253.78 457.47L1255.18 455.50L1256.57 453.53L1257.97 451.56L1259.37 449.60L1260.76 447.64L1262.16 445.68L1263.56 443.75L1264.95 441.82L1266.35 439.91L1267.74 438.02L1269.14 436.16L1270.54 434.32L1271.93 432.50L1273.33 430.72L1274.73 428.97L1276.12 427.26L1277.52 425.59L1278.91 423.96L1280.31 422.37L1281.71 420.84L1283.10 419.35L1284.50 417.91L1285.90 416.52L1287.29 415.20L1288.69 413.92L1290.08 412.71L1291.48 411.55L1292.88 410.46L1294.27 409.42L1295.67 408.44L1297.07 407.53L1298.46 406.67L1299.86 405.87L1301.25 405.14L1302.65 404.45L1304.05 403.83L1305.44 403.26L1306.84 402.74L1308.24 402.27L1309.63 401.85L1311.03 401.47L1312.42 401.14L1313.82 400.84L1315.22 400.59L1316.61 400.37L1318.01 400.18L1319.41 400.01L1320.80 399.88L1322.20 399.77L1323.59 399.68L1324.99 399.60L1326.39 399.54L1327.78 399.50L1329.18 399.47L1330.58 399.44L1331.97 399.42L1333.37 399.41L1334.76 399.40L1336.16 399.40L1337.56 399.39L1338.95 399.39L1340.35 399.39L1341.75 399.39L1343.14 399.39L1344.54 399.40L1345.94 399.40L1347.33 399.41L1348.73 399.42L1350.12 399.44L1351.52 399.47L1352.92 399.50L1354.31 399.54L1355.71 399.60L1357.11 399.68L1358.50 399.77L1359.90 399.88L1361.29 400.01L1362.69 400.18L1364.09 400.37L1365.48 400.59L1366.88 400.84L1368.28 401.14L1369.67 401.47L1371.07 401.85L1372.46 402.27L1373.86 402.74L1375.26 403.26L1376.65 403.83L1378.05 404.45L1379.45 405.14L1380.84 405.87L1382.24 406.67L1383.63 407.53L1385.03 408.44L1386.43 409.42L1387.82 410.46L1389.22 411.55L1390.62 412.71L1392.01 413.92L1393.41 415.20L1394.80 416.52L1396.20 417.91L1397.60 419.35L1398.99 420.84L1400.39 422.37L1401.79 423.96L1403.18 425.59L1404.58 427.26L1405.97 428.97L1407.37 430.72L1408.77 432.50L1410.16 434.32L1411.56 436.16L1412.96 438.02L1414.35 439.91L1415.75 441.82L1417.14 443.75L1418.54 445.68L1419.94 447.64L1421.33 449.60L1422.73 451.56L1424.13 453.53L1425.52 455.50L1426.92 457.47L1428.31 459.44L1429.71 461.41L1431.11 463.36L1432.50 465.31L1433.90 467.25L1435.30 469.18L1436.69 471.09L1438.09 472.99L1439.48 474.88L1440.88 476.74L1442.28 478.59L1443.67 480.42L1445.07 482.23L1446.47 484.02L1447.86 485.79L1449.26 487.54L1450.65 489.27L1452.05 490.97L1453.45 492.65L1454.84 494.31L1456.24 495.94L1457.64 497.55L1459.03 499.13L1460.43 500.69L1461.82 502.22L1463.22 503.73L1464.62 505.22L1466.01 506.68L1467.41 508.12L1468.81 509.53L1470.20 510.92L1471.60 512.28L1472.99 513.62L1474.39 514.94L1475.79 516.23L1477.18 517.50L1478.58 518.75L1479.98 519.97L1481.37 521.17L1482.77 522.35L1484.16 523.50L1485.56 524.64L1486.96 525.75L1488.35 526.84L1489.75 527.91L1491.15 528.96L1492.54 529.99L1493.94 531.00L1495.33 531.99L1496.73 532.96L1498.13 533.91L1499.52 534.84L1500.92 535.76L1502.32 536.65L1503.71 537.53L1505.11 538.39L1506.50 539.24L1507.90 540.06L1509.30 540.88L1510.69 541.67L1512.09 542.45L1513.49 543.21L1514.88 543.96L1516.28 544.69L1517.68 545.41L1519.07 546.11L1520.47 546.80L1521.86 547.48L1523.26 548.14L1524.66 548.79L1526.05 549.43L1527.45 550.05L1528.85 550.66L1530.24 551.26L1531.64 551.85L1533.03 552.42L1534.43 552.99L1535.83 553.54L1537.22 554.08L1538.62 554.61L1540.02 555.13L1541.41 555.64L1542.81 556.14L1544.20 556.63L1545.60 557.11L1547.00 557.58L1548.39 558.04L1549.79 558.49L1551.19 558.94L1552.58 559.37L1553.98 559.80L1555.37 560.21L1556.77 560.62L1558.17 561.03L1559.56 561.42L1560.96 561.80L1562.36 562.18L1563.75 562.55L1565.15 562.92L1566.54 563.27L1567.94 563.62L1569.34 563.97L1570.73 564.30L1572.13 564.63L1573.53 564.96L1574.92 565.28L1576.32 565.59L1577.71 565.89L1579.11 566.19L1580.51 566.49L1581.90 566.78L1583.30 567.06L1584.70 567.34L1586.09 567.61L1587.49 567.88L1588.88 568.14L1590.28 568.40L1591.68 568.65L1593.07 568.90L1594.47 569.14L1595.87 569.38L1597.26 569.62L1598.66 569.85L1600.05 570.07L1601.45 570.29L1602.85 570.51L1604.24 570.73L1605.64 570.94L1607.04 571.14L1608.43 571.35L1609.83 571.54L1611.22 571.74L1612.62 571.93L1614.02 572.12L1615.41 572.31L1616.81 572.49L1618.21 572.67L1619.60 572.84" stroke="#D95319" stroke-width="3.4" fill="none" stroke-linejoin="round"/>
<path d="M1061.10 399.13L1062.49 397.20L1063.89 395.26L1065.29 393.29L1066.68 391.31L1068.08 389.32L1069.48 387.31L1070.87 385.28L1072.27 383.23L1073.66 381.17L1075.06 379.09L1076.46 377.00L1077.85 374.89L1079.25 372.76L1080.65 370.61L1082.04 368.45L1083.44 366.28L1084.83 364.08L1086.23 361.87L1087.63 359.65L1089.02 357.41L1090.42 355.15L1091.82 352.88L1093.21 350.59L1094.61 348.28L1096.00 345.96L1097.40 343.63L1098.80 341.28L1100.19 338.91L1101.59 336.53L1102.99 334.13L1104.38 331.72L1105.78 329.30L1107.17 326.86L1108.57 324.40L1109.97 321.94L1111.36 319.46L1112.76 316.96L1114.16 314.45L1115.55 311.93L1116.95 309.40L1118.34 306.85L1119.74 304.29L1121.14 301.72L1122.53 299.14L1123.93 296.55L1125.33 293.94L1126.72 291.33L1128.12 288.70L1129.51 286.07L1130.91 283.42L1132.31 280.77L1133.70 278.10L1135.10 275.43L1136.50 272.75L1137.89 270.07L1139.29 267.38L1140.68 264.68L1142.08 261.97L1143.48 259.26L1144.87 256.54L1146.27 253.82L1147.67 251.10L1149.06 248.37L1150.46 245.64L1151.85 242.90L1153.25 240.17L1154.65 237.43L1156.04 234.69L1157.44 231.96L1158.84 229.22L1160.23 226.48L1161.63 223.75L1163.02 221.02L1164.42 218.30L1165.82 215.57L1167.21 212.86L1168.61 210.14L1170.01 207.44L1171.40 204.74L1172.80 202.05L1174.20 199.36L1175.59 196.69L1176.99 194.03L1178.38 191.37L1179.78 188.73L1181.18 186.10L1182.57 183.49L1183.97 180.88L1185.37 178.29L1186.76 175.72L1188.16 173.16L1189.55 170.62L1190.95 168.10L1192.35 165.60L1193.74 163.11L1195.14 160.65L1196.54 158.20L1197.93 155.78L1199.33 153.38L1200.72 151.00L1202.12 148.64L1203.52 146.31L1204.91 144.00L1206.31 141.72L1207.71 139.47L1209.10 137.24L1210.50 135.04L1211.89 132.87L1213.29 130.72L1214.69 128.61L1216.08 126.52L1217.48 124.47L1218.88 122.45L1220.27 120.45L1221.67 118.49L1223.06 116.56L1224.46 114.67L1225.86 112.80L1227.25 110.97L1228.65 109.18L1230.05 107.42L1231.44 105.69L1232.84 103.99L1234.23 102.33L1235.63 100.71L1237.03 99.12L1238.42 97.56L1239.82 96.04L1241.22 94.56L1242.61 93.11L1244.01 91.69L1245.40 90.32L1246.80 88.97L1248.20 87.66L1249.59 86.39L1250.99 85.15L1252.39 83.94L1253.78 82.77L1255.18 81.63L1256.57 80.53L1257.97 79.46L1259.37 78.42L1260.76 77.42L1262.16 76.44L1263.56 75.50L1264.95 74.60L1266.35 73.72L1267.74 72.87L1269.14 72.05L1270.54 71.27L1271.93 70.51L1273.33 69.78L1274.73 69.08L1276.12 68.40L1277.52 67.76L1278.91 67.14L1280.31 66.54L1281.71 65.97L1283.10 65.43L1284.50 64.90L1285.90 64.41L1287.29 63.93L1288.69 63.48L1290.08 63.05L1291.48 62.63L1292.88 62.24L1294.27 61.87L1295.67 61.52L1297.07 61.18L1298.46 60.86L1299.86 60.56L1301.25 60.28L1302.65 60.01L1304.05 59.76L1305.44 59.52L1306.84 59.30L1308.24 59.09L1309.63 58.89L1311.03 58.71L1312.42 58.53L1313.82 58.37L1315.22 58.22L1316.61 58.08L1318.01 57.95L1319.41 57.83L1320.80 57.72L1322.20 57.62L1323.59 57.53L1324.99 57.45L1326.39 57.37L1327.78 57.31L1329.18 57.25L1330.58 57.20L1331.97 57.15L1333.37 57.11L1334.76 57.08L1336.16 57.06L1337.56 57.04L1338.95 57.03L1340.35 57.03L1341.75 57.03L1343.14 57.04L1344.54 57.06L1345.94 57.08L1347.33 57.11L1348.73 57.15L1350.12 57.20L1351.52 57.25L1352.92 57.31L1354.31 57.37L1355.71 57.45L1357.11 57.53L1358.50 57.62L1359.90 57.72L1361.29 57.83L1362.69 57.95L1364.09 58.08L1365.48 58.22L1366.88 58.37L1368.28 58.53L1369.67 58.71L1371.07 58.89L1372.46 59.09L1373.86 59.30L1375.26 59.52L1376.65 59.76L1378.05 60.01L1379.45 60.28L1380.84 60.56L1382.24 60.86L1383.63 61.18L1385.03 61.52L1386.43 61.87L1387.82 62.24L1389.22 62.63L1390.62 63.05L1392.01 63.48L1393.41 63.93L1394.80 64.41L1396.20 64.90L1397.60 65.43L1398.99 65.97L1400.39 66.54L1401.79 67.14L1403.18 67.76L1404.58 68.40L1405.97 69.08L1407.37 69.78L1408.77 70.51L1410.16 71.27L1411.56 72.05L1412.96 72.87L1414.35 73.72L1415.75 74.60L1417.14 75.50L1418.54 76.44L1419.94 77.42L1421.33 78.42L1422.73 79.46L1424.13 80.53L1425.52 81.63L1426.92 82.77L1428.31 83.94L1429.71 85.15L1431.11 86.39L1432.50 87.66L1433.90 88.97L1435.30 90.32L1436.69 91.69L1438.09 93.11L1439.48 94.56L1440.88 96.04L1442.28 97.56L1443.67 99.12L1445.07 100.71L1446.47 102.33L1447.86 103.99L1449.26 105.69L1450.65 107.42L1452.05 109.18L1453.45 110.97L1454.84 112.80L1456.24 114.67L1457.64 116.56L1459.03 118.49L1460.43 120.45L1461.82 122.45L1463.22 124.47L1464.62 126.52L1466.01 128.61L1467.41 130.72L1468.81 132.87L1470.20 135.04L1471.60 137.24L1472.99 139.47L1474.39 141.72L1475.79 144.00L1477.18 146.31L1478.58 148.64L1479.98 151.00L1481.37 153.38L1482.77 155.78L1484.16 158.20L1485.56 160.65L1486.96 163.11L1488.35 165.60L1489.75 168.10L1491.15 170.62L1492.54 173.16L1493.94 175.72L1495.33 178.29L1496.73 180.88L1498.13 183.49L1499.52 186.10L1500.92 188.73L1502.32 191.37L1503.71 194.03L1505.11 196.69L1506.50 199.36L1507.90 202.05L1509.30 204.74L1510.69 207.44L1512.09 210.14L1513.49 212.86L1514.88 215.57L1516.28 218.30L1517.68 221.02L1519.07 223.75L1520.47 226.48L1521.86 229.22L1523.26 231.96L1524.66 234.69L1526.05 237.43L1527.45 240.17L1528.85 242.90L1530.24 245.64L1531.64 248.37L1533.03 251.10L1534.43 253.82L1535.83 256.54L1537.22 259.26L1538.62 261.97L1540.02 264.68L1541.41 267.38L1542.81 270.07L1544.20 272.75L1545.60 275.43L1547.00 278.10L1548.39 280.77L1549.79 283.42L1551.19 286.07L1552.58 288.70L1553.98 291.33L1555.37 293.94L1556.77 296.55L1558.17 299.14L1559.56 301.72L1560.96 304.29L1562.36 306.85L1563.75 309.40L1565.15 311.93L1566.54 314.45L1567.94 316.96L1569.34 319.46L1570.73 321.94L1572.13 324.40L1573.53 326.86L1574.92 329.30L1576.32 331.72L1577.71 334.13L1579.11 336.53L1580.51 338.91L1581.90 341.28L1583.30 343.63L1584.70 345.96L1586.09 348.28L1587.49 350.59L1588.88 352.88L1590.28 355.15L1591.68 357.41L1593.07 359.65L1594.47 361.87L1595.87 364.08L1597.26 366.28L1598.66 368.45L1600.05 370.61L1601.45 372.76L1602.85 374.89L1604.24 377.00L1605.64 379.09L1607.04 381.17L1608.43 383.23L1609.83 385.28L1611.22 387.31L1612.62 389.32L1614.02 391.31L1615.41 393.29L1616.81 395.26L1618.21 397.20L1619.60 399.13" stroke="#EDB120" stroke-width="3.4" fill="none" stroke-linejoin="round"/>
<g font-family='"Liberation Serif", serif' font-size="33.0" fill="#000">
<text x="136.70" y="626.20" text-anchor="middle">0</text>
<text x="252.50" y="626.20" text-anchor="middle">100</text>
<text x="368.30" y="626.20" text-anchor="middle">200</text>
<text x="484.10" y="626.20" text-anchor="middle">300</text>
<text x="599.90" y="626.20" text-anchor="middle">400</text>
<text x="715.70" y="626.20" text-anchor="middle">500</text>
<text x="831.50" y="626.20" text-anchor="middle">600</text>
<text x="110.36" y="598.94">0</text>
<text x="85.64" y="527.06">0.5</text>
<text x="111.08" y="455.19">1</text>
<text x="85.64" y="383.31">1.5</text>
<text x="110.92" y="311.44">2</text>
<text x="85.64" y="239.56">2.5</text>
<text x="110.39" y="167.69">3</text>
<text x="85.64" y="95.81">3.5</text>
<text x="109.62" y="23.94">4</text>
<text x="989.20" y="624.90" text-anchor="middle">-4000</text>
<text x="1164.78" y="624.90" text-anchor="middle">-2000</text>
<text x="1340.35" y="624.90" text-anchor="middle">0</text>
<text x="1515.92" y="624.90" text-anchor="middle">2000</text>
<text x="1691.50" y="624.90" text-anchor="middle">4000</text>
<text x="962.56" y="597.04">0</text>
<text x="963.12" y="501.44">2</text>
<text x="961.82" y="405.84">4</text>
<text x="962.28" y="310.24">6</text>
<text x="962.56" y="214.64">8</text>
<text x="946.06" y="119.04">10</text>
<text x="946.62" y="23.44">12</text>
</g>
<rect x="201.2" y="28.3" width="218.50" height="110.90" fill="#fff" stroke="#262626" stroke-width="1.2"/>
<path d="M206.4 47.60H254.4" stroke="#0072BD" stroke-width="3.4"/>
<text x="258.00" y="55.90" font-family='"Liberation Serif", serif' font-size="30.50" font-style="italic" textLength="15.75" lengthAdjust="spacingAndGlyphs">κ</text>
<text x="281.54" y="57.55" font-family='"Liberation Serif", serif' font-size="27.50" textLength="25.57" lengthAdjust="spacingAndGlyphs">=</text>
<text x="312.75" y="55.90" font-family='"Liberation Serif", serif' font-size="30.50" textLength="30.21" lengthAdjust="spacingAndGlyphs">10</text>
<text x="352.43" y="55.90" font-family='"Liberation Serif", serif' font-size="30.50" textLength="62.32" lengthAdjust="spacingAndGlyphs">MHz</text>
<path d="M206.4 83.65H254.4" stroke="#D95319" stroke-width="3.4"/>
<text x="258.00" y="91.95" font-family='"Liberation Serif", serif' font-size="30.50" font-style="italic" textLength="15.75" lengthAdjust="spacingAndGlyphs">κ</text>
<text x="281.54" y="93.60" font-family='"Liberation Serif", serif' font-size="27.50" textLength="25.57" lengthAdjust="spacingAndGlyphs">=</text>
<text x="312.74" y="91.95" font-family='"Liberation Serif", serif' font-size="30.50" textLength="30.24" lengthAdjust="spacingAndGlyphs">15</text>
<text x="352.43" y="91.95" font-family='"Liberation Serif", serif' font-size="30.50" textLength="62.32" lengthAdjust="spacingAndGlyphs">MHz</text>
<path d="M206.4 119.70H254.4" stroke="#EDB120" stroke-width="3.4"/>
<text x="258.00" y="128.00" font-family='"Liberation Serif", serif' font-size="30.50" font-style="italic" textLength="15.75" lengthAdjust="spacingAndGlyphs">κ</text>
<text x="281.54" y="129.65" font-family='"Liberation Serif", serif' font-size="27.50" textLength="25.57" lengthAdjust="spacingAndGlyphs">=</text>
<text x="314.02" y="128.00" font-family='"Liberation Serif", serif' font-size="30.50" textLength="28.88" lengthAdjust="spacingAndGlyphs">30</text>
<text x="352.43" y="128.00" font-family='"Liberation Serif", serif' font-size="30.50" textLength="62.32" lengthAdjust="spacingAndGlyphs">MHz</text>
<rect x="1326.4" y="170.1" width="354.60" height="111.70" fill="#fff" stroke="#262626" stroke-width="1.2"/>
<path d="M1331.8 190.00H1379.6" stroke="#0072BD" stroke-width="3.4"/>
<text x="1384.21" y="198.40" font-family='"Liberation Serif", serif' font-size="30.50" font-style="italic" textLength="15.54" lengthAdjust="spacingAndGlyphs">κ</text>
<text x="1408.05" y="200.05" font-family='"Liberation Serif", serif' font-size="27.50" textLength="24.36" lengthAdjust="spacingAndGlyphs">=</text>
<text x="1439.26" y="198.40" font-family='"Liberation Serif", serif' font-size="30.50" textLength="30.09" lengthAdjust="spacingAndGlyphs">10</text>
<text x="1479.22" y="198.40" font-family='"Liberation Serif", serif' font-size="30.50" textLength="70.09" lengthAdjust="spacingAndGlyphs">MHz,</text>
<text x="1559.94" y="198.40" font-family='"Liberation Serif", serif' font-size="30.50" font-style="italic" textLength="22.21" lengthAdjust="spacingAndGlyphs">N</text>
<text x="1592.26" y="200.05" font-family='"Liberation Serif", serif' font-size="27.50" textLength="25.33" lengthAdjust="spacingAndGlyphs">=</text>
<text x="1623.68" y="198.40" font-family='"Liberation Serif", serif' font-size="30.50" textLength="44.76" lengthAdjust="spacingAndGlyphs">100</text>
<path d="M1331.8 225.95H1379.6" stroke="#D95319" stroke-width="3.4"/>
<text x="1384.21" y="234.35" font-family='"Liberation Serif", serif' font-size="30.50" font-style="italic" textLength="15.54" lengthAdjust="spacingAndGlyphs">κ</text>
<text x="1408.05" y="236.00" font-family='"Liberation Serif", serif' font-size="27.50" textLength="24.36" lengthAdjust="spacingAndGlyphs">=</text>
<text x="1439.25" y="234.35" font-family='"Liberation Serif", serif' font-size="30.50" textLength="30.12" lengthAdjust="spacingAndGlyphs">15</text>
<text x="1479.22" y="234.35" font-family='"Liberation Serif", serif' font-size="30.50" textLength="70.09" lengthAdjust="spacingAndGlyphs">MHz,</text>
<text x="1559.94" y="234.35" font-family='"Liberation Serif", serif' font-size="30.50" font-style="italic" textLength="22.21" lengthAdjust="spacingAndGlyphs">N</text>
<text x="1592.26" y="236.00" font-family='"Liberation Serif", serif' font-size="27.50" textLength="25.33" lengthAdjust="spacingAndGlyphs">=</text>
<text x="1623.68" y="234.35" font-family='"Liberation Serif", serif' font-size="30.50" textLength="44.76" lengthAdjust="spacingAndGlyphs">180</text>
<path d="M1331.8 261.90H1379.6" stroke="#EDB120" stroke-width="3.4"/>
<text x="1384.21" y="270.30" font-family='"Liberation Serif", serif' font-size="30.50" font-style="italic" textLength="15.54" lengthAdjust="spacingAndGlyphs">κ</text>
<text x="1408.05" y="271.95" font-family='"Liberation Serif", serif' font-size="27.50" textLength="24.36" lengthAdjust="spacingAndGlyphs">=</text>
<text x="1439.70" y="270.30" font-family='"Liberation Serif", serif' font-size="30.50" textLength="36.54" lengthAdjust="spacingAndGlyphs">30,</text>
<text x="1486.91" y="270.30" font-family='"Liberation Serif", serif' font-size="30.50" textLength="70.92" lengthAdjust="spacingAndGlyphs">MHz,</text>
<text x="1568.44" y="270.30" font-family='"Liberation Serif", serif' font-size="30.50" font-style="italic" textLength="22.21" lengthAdjust="spacingAndGlyphs">N</text>
<text x="1600.84" y="271.95" font-family='"Liberation Serif", serif' font-size="27.50" textLength="24.48" lengthAdjust="spacingAndGlyphs">=</text>
<text x="1631.47" y="270.30" font-family='"Liberation Serif", serif' font-size="30.50" textLength="44.66" lengthAdjust="spacingAndGlyphs">520</text>
<text x="470.01" y="659.60" font-family='"Liberation Serif", serif' font-size="37.00" font-style="italic" textLength="27.95" lengthAdjust="spacingAndGlyphs">N</text>
<text x="301.39" y="702.80" font-family='"Liberation Serif", serif' font-size="37.00" textLength="366.83" lengthAdjust="spacingAndGlyphs">Total Implanted Atoms</text>
<text x="1286.33" y="659.80" font-family='"Liberation Serif", serif' font-size="37.00" textLength="29.92" lengthAdjust="spacingAndGlyphs">Δ</text>
<text x="1315.79" y="659.80" font-family='"Liberation Serif", serif' font-size="37.00" font-style="italic" textLength="23.69" lengthAdjust="spacingAndGlyphs">ω</text>
<text transform="translate(1341.90 667.60) scale(1 1.46)" font-family='"Liberation Serif", serif' font-size="37.00" textLength="13.70" lengthAdjust="spacingAndGlyphs">/</text>
<text x="1357.28" y="659.80" font-family='"Liberation Serif", serif' font-size="37.00" textLength="22.47" lengthAdjust="spacingAndGlyphs">Γ</text>
<text x="1379.92" y="665.50" font-family='"Liberation Serif", serif' font-size="26.00" textLength="12.86" lengthAdjust="spacingAndGlyphs">0</text>
<text x="1267.68" y="702.70" font-family='"Liberation Serif", serif' font-size="37.00" textLength="145.17" lengthAdjust="spacingAndGlyphs">Detuning</text>
<text transform="translate(24.60 443.09) rotate(-90)" font-family='"Liberation Serif", serif' font-size="37.00" textLength="288.71" lengthAdjust="spacingAndGlyphs">Effective Coupling</text>
<text transform="translate(68.00 370.54) rotate(-90)" font-family='"Liberation Serif", serif' font-size="37.00" font-style="italic" textLength="32.55" lengthAdjust="spacingAndGlyphs">M</text>
<text transform="translate(73.50 336.46) rotate(-90)" font-family='"Liberation Serif", serif' font-size="26.00" textLength="11.33" lengthAdjust="spacingAndGlyphs">0</text>
<text transform="translate(68.00 317.22) rotate(-90)" font-family='"Liberation Serif", serif' font-size="37.00" font-style="italic" textLength="16.16" lengthAdjust="spacingAndGlyphs">g</text>
<text transform="translate(74.50 297.20) rotate(-90) scale(1 1.44)" font-family='"Liberation Serif", serif' font-size="37.00" textLength="13.90" lengthAdjust="spacingAndGlyphs">/</text>
<text transform="translate(68.00 280.84) rotate(-90)" font-family='"Liberation Serif", serif' font-size="37.00" font-style="italic" textLength="18.71" lengthAdjust="spacingAndGlyphs">η</text>
<text transform="translate(68.00 262.19) rotate(-90)" font-family='"Liberation Serif", serif' font-size="37.00" textLength="21.91" lengthAdjust="spacingAndGlyphs">Γ</text>
<text transform="translate(72.20 239.32) rotate(-90)" font-family='"Liberation Serif", serif' font-size="26.00" textLength="12.03" lengthAdjust="spacingAndGlyphs">0</text>
<text transform="translate(884.90 441.68) rotate(-90)" font-family='"Liberation Serif", serif' font-size="37.00" textLength="286.60" lengthAdjust="spacingAndGlyphs">Effective Coupling</text>
<text transform="translate(928.00 390.11) rotate(-90)" font-family='"Liberation Serif", serif' font-size="37.00" font-style="italic" textLength="34.61" lengthAdjust="spacingAndGlyphs">M</text>
<text transform="translate(928.00 351.22) rotate(-90)" font-family='"Liberation Serif", serif' font-size="37.00" textLength="11.54" lengthAdjust="spacingAndGlyphs">(</text>
<text transform="translate(928.00 338.86) rotate(-90)" font-family='"Liberation Serif", serif' font-size="37.00" textLength="28.11" lengthAdjust="spacingAndGlyphs">Δ</text>
<text transform="translate(928.00 309.77) rotate(-90)" font-family='"Liberation Serif", serif' font-size="37.00" textLength="12.06" lengthAdjust="spacingAndGlyphs">)</text>
<text transform="translate(928.00 296.22) rotate(-90)" font-family='"Liberation Serif", serif' font-size="37.00" font-style="italic" textLength="17.97" lengthAdjust="spacingAndGlyphs">g</text>
<text transform="translate(934.00 276.00) rotate(-90) scale(1 1.44)" font-family='"Liberation Serif", serif' font-size="37.00" textLength="15.20" lengthAdjust="spacingAndGlyphs">/</text>
<text transform="translate(928.00 260.67) rotate(-90)" font-family='"Liberation Serif", serif' font-size="37.00" font-style="italic" textLength="21.91" lengthAdjust="spacingAndGlyphs">η</text>
<text transform="translate(928.00 239.03) rotate(-90)" font-family='"Liberation Serif", serif' font-size="37.00" textLength="20.68" lengthAdjust="spacingAndGlyphs">Γ</text>
<text transform="translate(933.70 218.06) rotate(-90)" font-family='"Liberation Serif", serif' font-size="26.00" textLength="13.92" lengthAdjust="spacingAndGlyphs">0</text>
<text x="-1.98" y="29.30" font-family='"DejaVu Sans", "Liberation Sans", sans-serif' font-size="30.70" textLength="43.46" lengthAdjust="spacingAndGlyphs">(a)</text>
<text x="857.43" y="29.30" font-family='"DejaVu Sans", "Liberation Sans", sans-serif' font-size="30.70" textLength="43.94" lengthAdjust="spacingAndGlyphs">(b)</text></svg></body></html>
